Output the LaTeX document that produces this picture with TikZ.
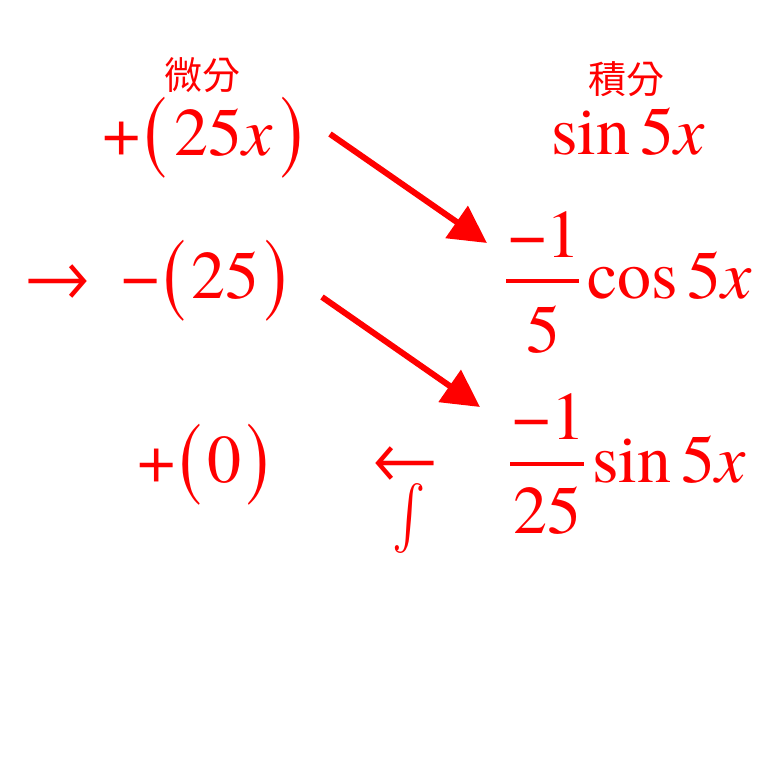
\documentclass[tikz,border=0pt]{standalone}
\usepackage{fontspec}
\setmainfont{texgyretermes}[Extension=.otf, UprightFont=*-regular,
  ItalicFont=*-italic, BoldFont=*-bold]
\newfontfamily\cjk{Noto Sans CJK TC}
\usetikzlibrary{arrows.meta}

\newcommand{\bigpar}[1]{\raisebox{-6pt}{\scalebox{1}[1.4]{#1}}}

\begin{document}
\begin{tikzpicture}[x=1pt,y=-1pt,
    expr/.style={inner sep=0, text=red, font=\fontsize{68}{80}\selectfont},
    head/.style={inner sep=0, text=red, font=\cjk\fontsize{38}{44}\selectfont},
    fracbar/.style={red, line width=4pt},
    stepline/.style={red, line width=6pt, -{Triangle[length=37pt,width=38pt]}}]
  \useasboundingbox (0,0) rectangle (768,764);

  % column heads
  \node[head] (dhead) at (202,75) {微分};
  \node[head] (ihead) at (626,79) {積分};

  % differentiate column
  \node[expr, anchor=base west] (d1) at (102,155)
    {+\hspace{4pt}\bigpar{(}\hspace{7pt}25\textit{x}\hspace{8pt}\bigpar{)}};
  \node[expr, anchor=base west] (d2) at (121,298)
    {−\hspace{4pt}\bigpar{(}\hspace{5pt}25\hspace{5pt}\bigpar{)}};
  \node[expr, anchor=base west] (d3) at (137,482)
    {+\hspace{4pt}\bigpar{(}\hspace{5pt}0\hspace{5pt}\bigpar{)}};
  \node[expr, anchor=base west] (rarr) at (23,298) {→};

  % integrate column
  \node[expr, anchor=base west] (i1) at (551,154) {sin\hspace{10pt}5\textit{x}};

  \node[expr, anchor=base] (n2) at (544.5,257) {−1};
  \node[expr, anchor=base] (m2) at (543.5,352) {5};
  \coordinate (b2l) at (506,281);
  \coordinate (b2r) at (579,281);
  \node[expr, anchor=base west] (i2) at (587,298) {cos\hspace{10pt}5\textit{x}};

  \node[expr, anchor=base] (n3) at (549,439) {−1};
  \node[expr, anchor=base] (m3) at (547,533) {25};
  \coordinate (b3l) at (510,464);
  \coordinate (b3r) at (584,464);
  \node[expr, anchor=base west] (i3) at (592,482) {sin\hspace{10pt}5\textit{x}};

  \node[expr, anchor=base west] (larr) at (371,480) {←};
  \node[expr] (intg) at (409,521) {\scalebox{5}[6.3]{$\int$}};

  \draw[fracbar] (b2l) -- (b2r);
  \draw[fracbar] (b3l) -- (b3r);

  % diagonal steps
  \coordinate (s1) at (330,134);
  \coordinate (t1) at (487,243);
  \coordinate (s2) at (322,297);
  \coordinate (t2) at (480,407);
  \draw[stepline] (s1) -- (t1);
  \draw[stepline] (s2) -- (t2);
\end{tikzpicture}
\end{document}
